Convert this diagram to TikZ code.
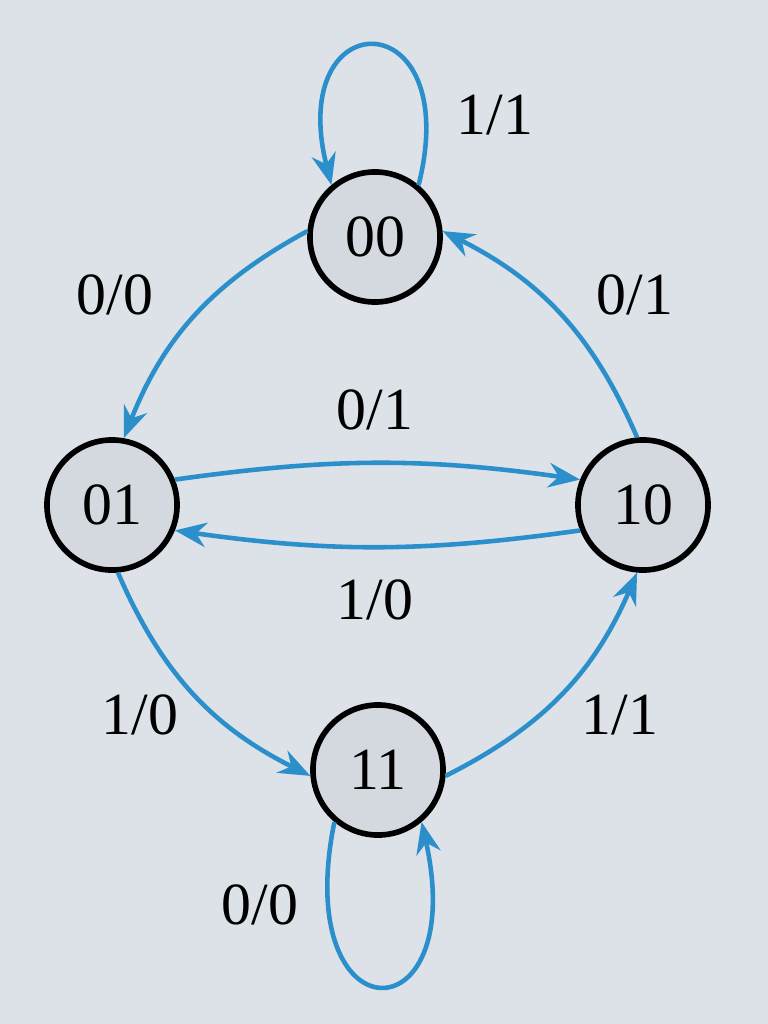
\documentclass[tikz,border=0pt]{standalone}
\usepackage{fontspec}
\setmainfont{Liberation Serif}
\usetikzlibrary{arrows.meta}
\definecolor{bg}{HTML}{DCE2E7}
\definecolor{nodefill}{HTML}{D3D9DE}
\definecolor{arr}{HTML}{2B8FCB}
\begin{document}
\begin{tikzpicture}[x=0.01cm,y=-0.01cm,
  state/.style={circle,draw=black,line width=1.6pt,fill=nodefill,minimum size=1.3cm,inner sep=0pt,font=\fontsize{17}{17}\selectfont},
  tr/.style={draw=arr,line width=1.3pt,-{Stealth[length=9pt,width=7pt]}},
  lbl/.style={font=\fontsize{17}{17}\selectfont}]
\fill[bg] (0,0) rectangle (768,1024);
\useasboundingbox (0,0) rectangle (768,1024);
\node[state] (s00) at (375,237) {00};
\node[state] (s01) at (112,505) {01};
\node[state] (s10) at (643,505) {10};
\node[state] (s11) at (378,770) {11};
\draw[tr] (s00.50) .. controls (465,0) and (285,0) .. (s00.130);
\draw[tr] (s11.-130) .. controls (290,1040) and (470,1040) .. (s11.-50);
\draw[tr] (s00.175) to[bend right=20] (s01.80);
\draw[tr] (s10.95) to[bend right=20] (s00.5);
\draw[tr] (s01.-85) to[bend right=20] (s11.185);
\draw[tr] (s11.-5) to[bend right=20] (s10.-95);
\draw[tr] (s01.22) to[bend left=8] (s10.158);
\draw[tr] (s10.-158) to[bend left=8] (s01.-22);
\node[lbl] (l1) at (495,115) {1/1};
\node[lbl] (l2) at (115,295) {0/0};
\node[lbl] (l3) at (635,295) {0/1};
\node[lbl] (l4) at (375,410) {0/1};
\node[lbl] (l5) at (375,600) {1/0};
\node[lbl] (l6) at (140,715) {1/0};
\node[lbl] (l7) at (620,715) {1/1};
\node[lbl] (l8) at (260,905) {0/0};
\end{tikzpicture}
\end{document}
